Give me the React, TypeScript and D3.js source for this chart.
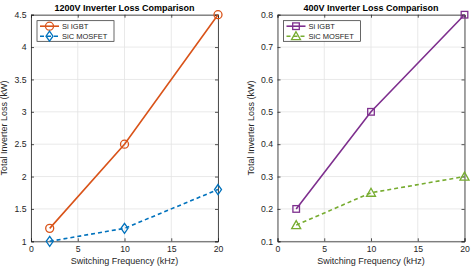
import React, { useEffect, useRef } from 'react';
import * as d3 from 'd3';

const freqs = [2, 10, 20];
const siIgbt1200 = [1.2, 2.5, 4.5];
const sicMosfet1200 = [1.0, 1.2, 1.8];
const siIgbt400 = [0.2, 0.5, 0.8];
const sicMosfet400 = [0.15, 0.25, 0.3];
const xTicks = [0, 5, 10, 15, 20];
const yTicks1200 = [1, 1.5, 2, 2.5, 3, 3.5, 4, 4.5];
const yTicks400 = [0.1, 0.2, 0.3, 0.4, 0.5, 0.6, 0.7, 0.8];

const W = 474;
const H = 268;
const FONT = 'Liberation Sans, Arial, sans-serif';

type Panel = {
  title: string;
  left: number;
  right: number;
  yDomain: [number, number];
  yTicks: number[];
  series: { name: string; values: number[]; color: string; dash: string | null; marker: string }[];
};

const panels: Panel[] = [
  {
    title: '1200V Inverter Loss Comparison',
    left: 31,
    right: 218,
    yDomain: [1, 4.5],
    yTicks: yTicks1200,
    series: [
      { name: 'Si IGBT', values: siIgbt1200, color: '#D95319', dash: null, marker: 'circle' },
      { name: 'SiC MOSFET', values: sicMosfet1200, color: '#0072BD', dash: '4,3', marker: 'diamond' },
    ],
  },
  {
    title: '400V Inverter Loss Comparison',
    left: 277.5,
    right: 464.5,
    yDomain: [0.1, 0.8],
    yTicks: yTicks400,
    series: [
      { name: 'Si IGBT', values: siIgbt400, color: '#7E2F8E', dash: null, marker: 'square' },
      { name: 'SiC MOSFET', values: sicMosfet400, color: '#77AC30', dash: '4,3', marker: 'triangle' },
    ],
  },
];

const drawMarker = (g: any, kind: string, cx: number, cy: number, color: string) => {
  if (kind === 'circle') {
    g.append('circle').attr('cx', cx).attr('cy', cy).attr('r', 4)
      .attr('fill', 'none').attr('stroke', color).attr('stroke-width', 1.3);
  } else if (kind === 'diamond') {
    g.append('path')
      .attr('d', `M${cx},${cy - 5}L${cx + 3.5},${cy}L${cx},${cy + 5}L${cx - 3.5},${cy}Z`)
      .attr('fill', 'none').attr('stroke', color).attr('stroke-width', 1.3);
  } else if (kind === 'square') {
    g.append('rect').attr('x', cx - 3.3).attr('y', cy - 3.3).attr('width', 6.6).attr('height', 6.6)
      .attr('fill', 'none').attr('stroke', color).attr('stroke-width', 1.3);
  } else {
    g.append('path')
      .attr('d', `M${cx},${cy - 4.5}L${cx + 4.5},${cy + 3.5}L${cx - 4.5},${cy + 3.5}Z`)
      .attr('fill', 'none').attr('stroke', color).attr('stroke-width', 1.3);
  }
};

export default function App() {
  const svgRef = useRef<SVGSVGElement>(null);

  useEffect(() => {
    const svg = d3.select(svgRef.current);
    svg.selectAll('*').remove();
    svg.append('rect').attr('width', W).attr('height', H).attr('fill', '#fff');

    const top = 14.7;
    const bottom = 241.3;

    panels.forEach((p) => {
      const x = d3.scaleLinear().domain([0, 20]).range([p.left, p.right]);
      const y = d3.scaleLinear().domain(p.yDomain).range([bottom, top]);
      const g = svg.append('g');

      // grid
      g.selectAll('.vg').data(xTicks).join('line')
        .attr('x1', (d) => x(d)).attr('x2', (d) => x(d))
        .attr('y1', top).attr('y2', bottom)
        .attr('stroke', '#e3e3e3').attr('stroke-width', 0.8);
      g.selectAll('.hg').data(p.yTicks).join('line')
        .attr('y1', (d) => y(d)).attr('y2', (d) => y(d))
        .attr('x1', p.left).attr('x2', p.right)
        .attr('stroke', '#e3e3e3').attr('stroke-width', 0.8);

      // axes
      const xa = g.append('g').attr('transform', `translate(0,${bottom})`)
        .call(d3.axisBottom(x).tickValues(xTicks).tickSize(-3).tickPadding(5).tickFormat(d3.format('d')));
      const xt = g.append('g').attr('transform', `translate(0,${top})`)
        .call(d3.axisTop(x).tickValues(xTicks).tickSize(-3).tickFormat(() => ''));
      const ya = g.append('g').attr('transform', `translate(${p.left},0)`)
        .call(d3.axisLeft(y).tickValues(p.yTicks).tickSize(-3).tickPadding(4.5).tickFormat((d: any) => String(+d)));
      const yr = g.append('g').attr('transform', `translate(${p.right},0)`)
        .call(d3.axisRight(y).tickValues(p.yTicks).tickSize(-3).tickFormat(() => ''));
      [xa, xt, ya, yr].forEach((a) => {
        a.selectAll('path.domain').attr('stroke', '#262626').attr('stroke-width', 0.8);
        a.selectAll('.tick line').attr('stroke', '#262626').attr('stroke-width', 0.8);
        a.selectAll('.tick text').attr('fill', '#262626').style('font-family', FONT).style('font-size', '8.7px');
      });

      // title and labels
      const cx = (p.left + p.right) / 2;
      g.append('text').attr('x', cx).attr('y', 10.5).attr('text-anchor', 'middle')
        .style('font-family', FONT).style('font-size', '9px').style('font-weight', 'bold')
        .attr('fill', '#000').text(p.title);
      g.append('text').attr('x', cx).attr('y', 264).attr('text-anchor', 'middle')
        .style('font-family', FONT).style('font-size', '9px')
        .attr('fill', '#262626').text('Switching Frequency (kHz)');
      g.append('text')
        .attr('transform', `translate(${p.left - 24},${(top + bottom) / 2}) rotate(-90)`)
        .attr('text-anchor', 'middle')
        .style('font-family', FONT).style('font-size', '9px')
        .attr('fill', '#262626').text('Total Inverter Loss (kW)');

      // series
      const line = d3.line<number>().x((_, i) => x(freqs[i])).y((d) => y(d));
      p.series.forEach((s) => {
        g.append('path').datum(s.values).attr('d', line)
          .attr('fill', 'none').attr('stroke', s.color).attr('stroke-width', 1.6)
          .attr('stroke-dasharray', s.dash);
        s.values.forEach((v, i) => drawMarker(g, s.marker, x(freqs[i]), y(v), s.color));
      });

      // legend
      const lx = p.left + 6;
      const ly = 20.7;
      const lg = g.append('g');
      lg.append('rect').attr('x', lx).attr('y', ly).attr('width', 77).attr('height', 20.6)
        .attr('fill', '#fff').attr('stroke', '#262626').attr('stroke-width', 0.7);
      p.series.forEach((s, i) => {
        const yy = ly + 5.5 + i * 10;
        lg.append('line').attr('x1', lx + 3).attr('x2', lx + 22).attr('y1', yy).attr('y2', yy)
          .attr('stroke', s.color).attr('stroke-width', 1.6).attr('stroke-dasharray', s.dash);
        drawMarker(lg, s.marker, lx + 12.5, yy, s.color);
        lg.append('text').attr('x', lx + 25).attr('y', yy + 3)
          .style('font-family', FONT).style('font-size', '7.5px')
          .attr('fill', '#262626').text(s.name);
      });
    });
  }, []);

  return (
    <svg ref={svgRef} width={W} height={H} style={{ position: 'absolute', left: 0, top: 0 }} />
  );
}
